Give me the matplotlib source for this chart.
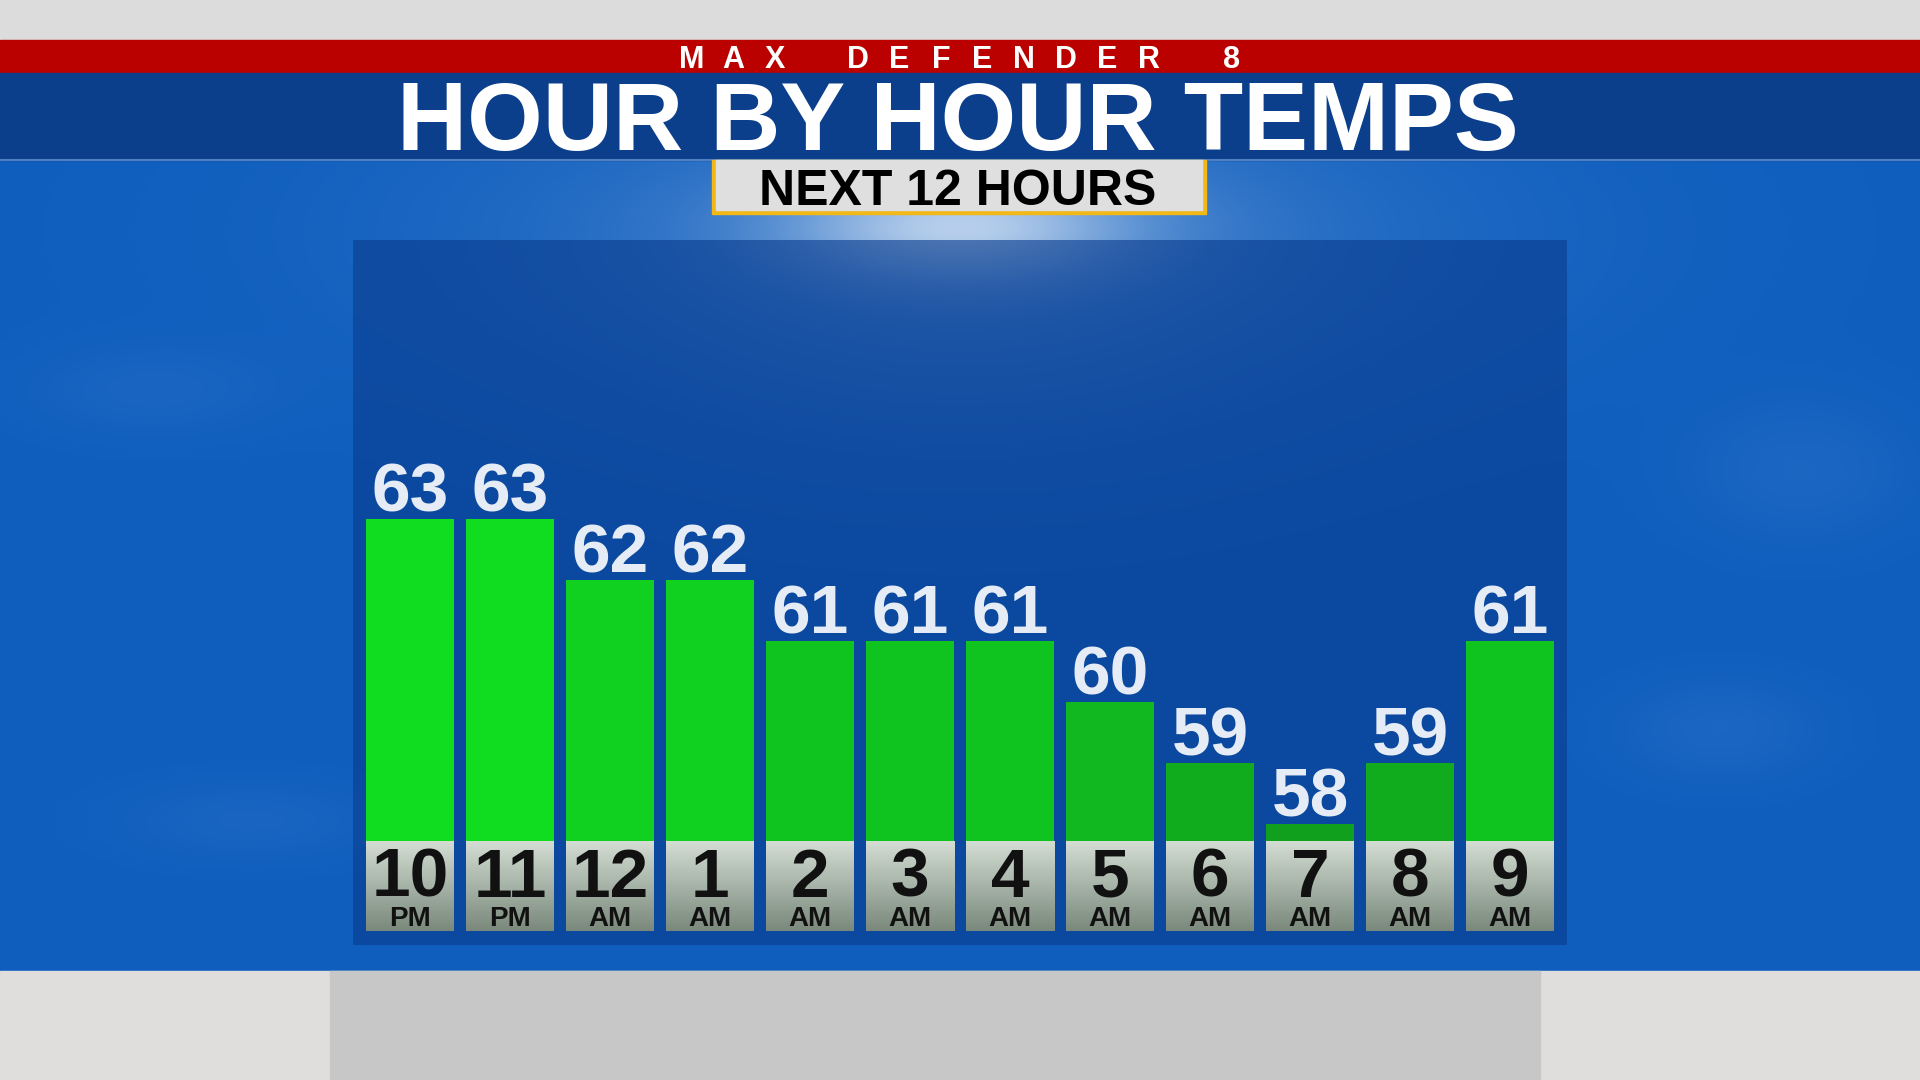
import numpy as np
import matplotlib
matplotlib.use('Agg')
import matplotlib.pyplot as plt
from matplotlib.patches import Rectangle
from matplotlib.colors import to_rgb

hours = ['10', '11', '12', '1', '2', '3', '4', '5', '6', '7', '8', '9']
periods = ['PM', 'PM', 'AM', 'AM', 'AM', 'AM', 'AM', 'AM', 'AM', 'AM', 'AM', 'AM']
temps = [63, 63, 62, 62, 61, 61, 61, 60, 59, 58, 59, 61]

plt.rcParams['font.family'] = ['Liberation Sans', 'DejaVu Sans']

W, H = 1920, 1080
fig = plt.figure(figsize=(19.2, 10.8), dpi=100)

# background layer drawn in pixel coordinates
bg = fig.add_axes([0, 0, 1, 1])
bg.set_xlim(0, W)
bg.set_ylim(H, 0)
bg.axis('off')

yy, xx = np.mgrid[0:H, 0:W]


def blob(cx, cy, sx, sy, amt):
    return amt * np.exp(-(((xx - cx) / sx) ** 2 + ((yy - cy) / sy) ** 2))


sky = np.empty((H, W, 3))
sky[:] = to_rgb('#0f5ebe')
light = (blob(960, 225, 170, 55, 0.5) + blob(960, 230, 480, 150, 0.16)
         + blob(960, 330, 300, 140, 0.07)
         + blob(150, 390, 120, 45, 0.04) + blob(1800, 470, 110, 70, 0.05)
         + blob(1720, 730, 100, 50, 0.05) + blob(250, 820, 130, 40, 0.04))
light = np.clip(light, 0, 1)
sky = sky + (1 - sky) * light[..., None]
bg.imshow(sky, extent=(0, W, H, 0), aspect='auto', zorder=0)

# header bands
bg.add_patch(Rectangle((0, 0), W, 40, color='#dcdcdc', zorder=1))
bg.add_patch(Rectangle((0, 40), W, 33, color='#bb0000', zorder=1))
bg.add_patch(Rectangle((0, 73), W, 87, color='#0b3f8c', zorder=1))
bg.plot([0, W], [160, 160], color='#4f80c4', lw=1.5, zorder=2)

# bottom grey strip
bg.add_patch(Rectangle((0, 971), W, 109, color='#dfdedc', zorder=1))
bg.add_patch(Rectangle((330, 971), 1210, 109, color='#c7c7c7', zorder=1))

# subtitle box
bg.add_patch(Rectangle((712, 160), 494, 54, color='#f2b818', zorder=2))
bg.add_patch(Rectangle((716, 160), 486, 50, color='#dfdfdf', zorder=3))

for k, ch in enumerate('MAX DEFENDER 8'):
    bg.text(692 + 41.5 * k, 68, ch, ha='center', va='baseline', fontsize=22,
            weight='bold', color='white', zorder=4,
            family=['Liberation Sans Narrow', 'Liberation Sans', 'DejaVu Sans'])
bg.text(958, 150, 'HOUR BY HOUR TEMPS', ha='center', va='baseline',
        fontsize=70, weight='bold', color='white', zorder=4)
bg.text(958, 205, 'NEXT 12 HOURS', ha='center', va='baseline',
        fontsize=36, weight='bold', color='black', zorder=4)

# chart panel
px_per_deg = 61.0
base = 57.72
ymin = base - (945 - 841) / px_per_deg
ymax = base + (841 - 240) / px_per_deg
label_h = 90 / px_per_deg

ax = fig.add_axes([353 / W, (H - 945) / H, 1214 / W, 705 / H])
ax.set_facecolor((0.04, 0.24, 0.56, 0.62))
for s in ax.spines.values():
    s.set_visible(False)
ax.set_xticks([])
ax.set_yticks([])

x = np.arange(len(temps))
lo, hi = np.array(to_rgb('#11a01e')), np.array(to_rgb('#10dc20'))
colors = [lo + (hi - lo) * (t - 58) / 5 for t in temps]
ax.bar(x, np.array(temps) - base, bottom=base, width=0.88, color=colors, zorder=2)

grad = np.linspace(0, 1, 64)[:, None, None]
top_c, bot_c = np.array(to_rgb('#d3ddd3')), np.array(to_rgb('#7a897c'))
grad_img = top_c + (bot_c - top_c) * grad
for i, (h, p, t) in enumerate(zip(hours, periods, temps)):
    ax.imshow(grad_img, extent=(i - 0.44, i + 0.44, base - label_h, base),
              aspect='auto', zorder=2)
    ax.annotate(str(t), (i, t), xytext=(0, 5), textcoords='offset points',
                ha='center', va='baseline', fontsize=50, weight='bold',
                color='#e6ecf6', zorder=3)
    ax.annotate(h, (i, base), xytext=(0, -40.3), textcoords='offset points',
                ha='center', va='baseline', fontsize=50, weight='bold',
                color='#111111', zorder=3)
    ax.annotate(p, (i, base), xytext=(0, -61), textcoords='offset points',
                ha='center', va='baseline', fontsize=20, weight='bold',
                color='#111111', zorder=3)

ax.set_xlim(-0.57, 11.57)
ax.set_ylim(ymin, ymax)

fig.savefig('out.png', dpi=100)
